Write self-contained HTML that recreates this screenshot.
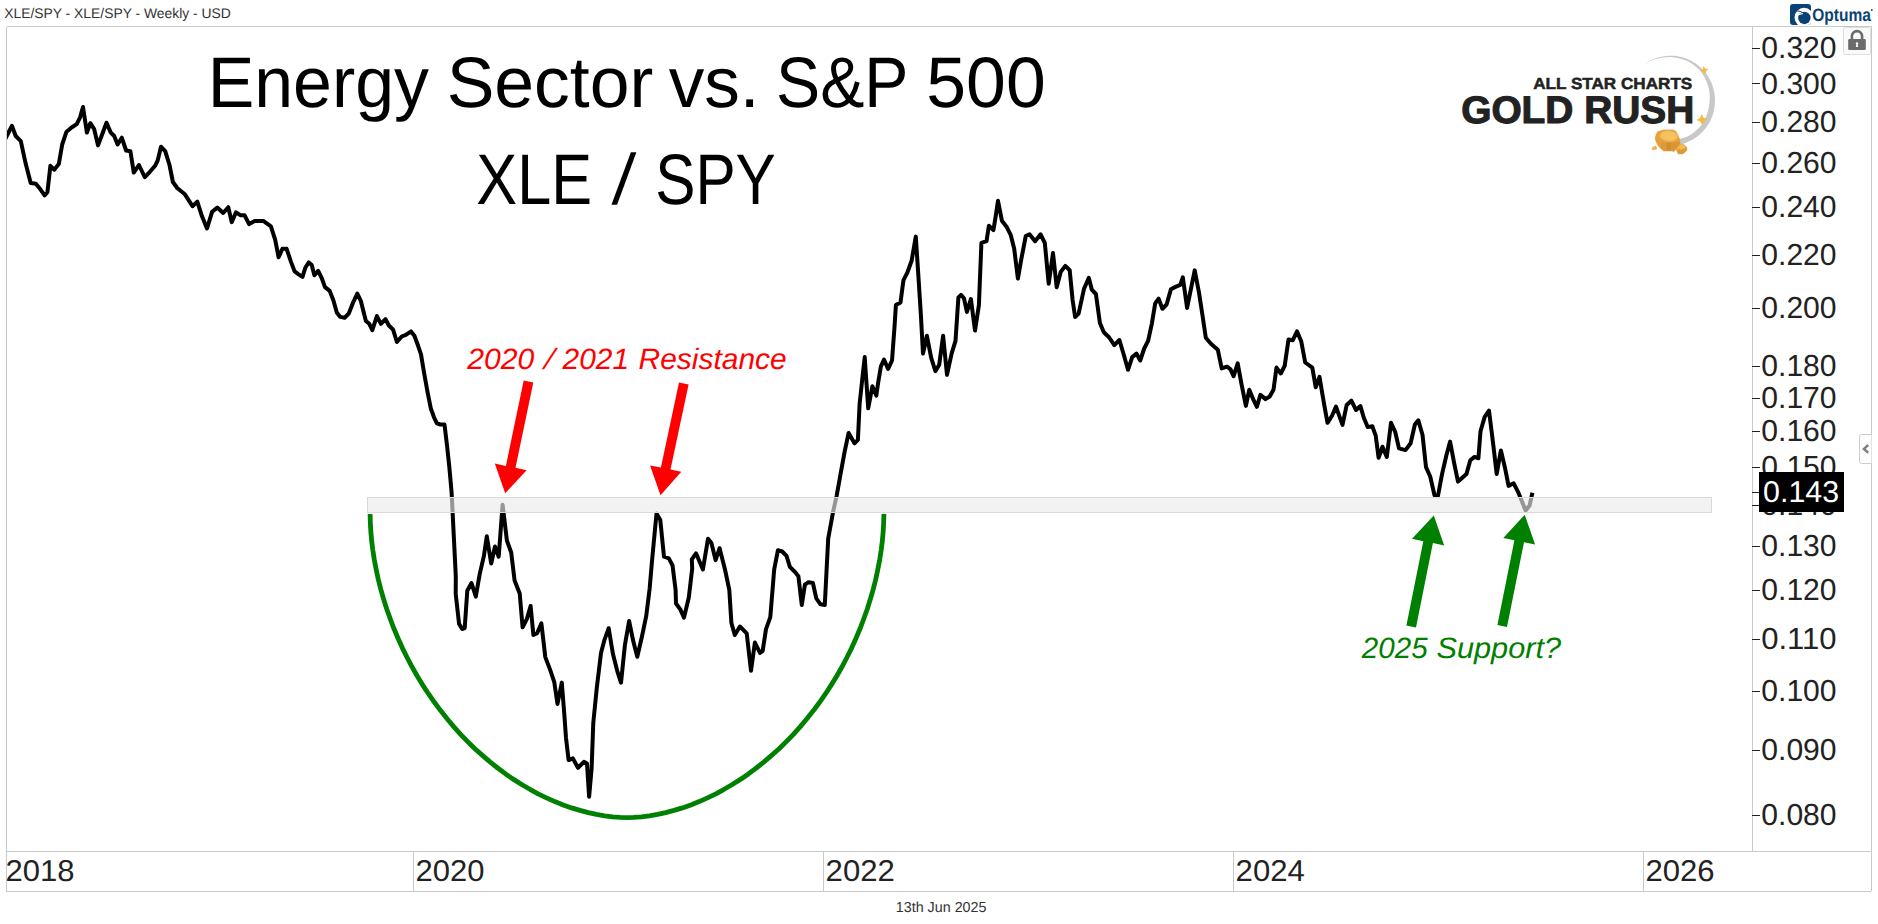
<!DOCTYPE html>
<html lang="en"><head><meta charset="utf-8"><title>XLE/SPY - Weekly</title>
<style>html,body{margin:0;padding:0;background:#fff;}body{width:1878px;height:924px;overflow:hidden;position:relative;font-family:'Liberation Sans', 'DejaVu Sans', sans-serif;}svg{position:absolute;left:0;top:0;display:block;}text{font-family:'Liberation Sans', 'DejaVu Sans', sans-serif;text-rendering:geometricPrecision;}</style>
</head><body>
<svg width="1878" height="924" viewBox="0 0 1878 924">
<rect x="0" y="0" width="1878" height="924" fill="#ffffff"/>
<text x="4.2" y="17.5" font-size="14" fill="#333333" textLength="226.6" lengthAdjust="spacingAndGlyphs">XLE/SPY - XLE/SPY - Weekly - USD</text>
<g fill="none" stroke="#c9c9c9" stroke-width="1" shape-rendering="crispEdges">
<rect x="6.5" y="26.5" width="1865" height="865" rx="1.5"/>
<line x1="1752.5" y1="26.5" x2="1752.5" y2="851.5"/>
<line x1="6.5" y1="851.5" x2="1871.5" y2="851.5"/>
<line x1="413.5" y1="851.5" x2="413.5" y2="891.5"/>
<line x1="823.5" y1="851.5" x2="823.5" y2="891.5"/>
<line x1="1233.5" y1="851.5" x2="1233.5" y2="891.5"/>
<line x1="1643.5" y1="851.5" x2="1643.5" y2="891.5"/>
</g>
<text x="5.5" y="881.1" font-size="30.1" fill="#222222" textLength="68.9" lengthAdjust="spacingAndGlyphs">2018</text>
<text x="415.5" y="881.1" font-size="30.1" fill="#222222" textLength="68.9" lengthAdjust="spacingAndGlyphs">2020</text>
<text x="825.6" y="881.1" font-size="30.1" fill="#222222" textLength="69.2" lengthAdjust="spacingAndGlyphs">2022</text>
<text x="1235.6" y="881.1" font-size="30.1" fill="#222222" textLength="69.2" lengthAdjust="spacingAndGlyphs">2024</text>
<text x="1645.5" y="881.1" font-size="30.1" fill="#222222" textLength="69.1" lengthAdjust="spacingAndGlyphs">2026</text>
<g stroke="#222222" stroke-width="1" shape-rendering="crispEdges">
<line x1="1752" y1="48.5" x2="1760" y2="48.5"/>
<line x1="1752" y1="83.5" x2="1760" y2="83.5"/>
<line x1="1752" y1="122.5" x2="1760" y2="122.5"/>
<line x1="1752" y1="163.5" x2="1760" y2="163.5"/>
<line x1="1752" y1="207.5" x2="1760" y2="207.5"/>
<line x1="1752" y1="255.5" x2="1760" y2="255.5"/>
<line x1="1752" y1="308.5" x2="1760" y2="308.5"/>
<line x1="1752" y1="366.5" x2="1760" y2="366.5"/>
<line x1="1752" y1="398.5" x2="1760" y2="398.5"/>
<line x1="1752" y1="431.5" x2="1760" y2="431.5"/>
<line x1="1752" y1="467.5" x2="1760" y2="467.5"/>
<line x1="1752" y1="505.5" x2="1760" y2="505.5"/>
<line x1="1752" y1="546.5" x2="1760" y2="546.5"/>
<line x1="1752" y1="590.5" x2="1760" y2="590.5"/>
<line x1="1752" y1="639.5" x2="1760" y2="639.5"/>
<line x1="1752" y1="691.5" x2="1760" y2="691.5"/>
<line x1="1752" y1="750.5" x2="1760" y2="750.5"/>
<line x1="1752" y1="815.5" x2="1760" y2="815.5"/>
<line x1="1752" y1="492.5" x2="1760" y2="492.5"/>
</g>
<text x="1761.3" y="57.7" font-size="30.4" fill="#222222" textLength="75.3" lengthAdjust="spacingAndGlyphs">0.320</text>
<text x="1761.3" y="93.5" font-size="30.4" fill="#222222" textLength="75.3" lengthAdjust="spacingAndGlyphs">0.300</text>
<text x="1761.3" y="131.6" font-size="30.4" fill="#222222" textLength="75.3" lengthAdjust="spacingAndGlyphs">0.280</text>
<text x="1761.3" y="172.6" font-size="30.4" fill="#222222" textLength="75.3" lengthAdjust="spacingAndGlyphs">0.260</text>
<text x="1761.3" y="216.9" font-size="30.4" fill="#222222" textLength="75.3" lengthAdjust="spacingAndGlyphs">0.240</text>
<text x="1761.3" y="265.1" font-size="30.4" fill="#222222" textLength="75.3" lengthAdjust="spacingAndGlyphs">0.220</text>
<text x="1761.3" y="317.8" font-size="30.4" fill="#222222" textLength="75.3" lengthAdjust="spacingAndGlyphs">0.200</text>
<text x="1761.3" y="376.1" font-size="30.4" fill="#222222" textLength="75.3" lengthAdjust="spacingAndGlyphs">0.180</text>
<text x="1761.3" y="407.7" font-size="30.4" fill="#222222" textLength="75.3" lengthAdjust="spacingAndGlyphs">0.170</text>
<text x="1761.3" y="441.3" font-size="30.4" fill="#222222" textLength="75.3" lengthAdjust="spacingAndGlyphs">0.160</text>
<text x="1761.3" y="477.0" font-size="30.4" fill="#222222" textLength="75.3" lengthAdjust="spacingAndGlyphs">0.150</text>
<text x="1761.3" y="515.2" font-size="30.4" fill="#222222" textLength="75.3" lengthAdjust="spacingAndGlyphs">0.140</text>
<text x="1761.3" y="556.2" font-size="30.4" fill="#222222" textLength="75.3" lengthAdjust="spacingAndGlyphs">0.130</text>
<text x="1761.3" y="600.4" font-size="30.4" fill="#222222" textLength="75.3" lengthAdjust="spacingAndGlyphs">0.120</text>
<text x="1761.2" y="648.6" font-size="30.4" fill="#222222" textLength="75.4" lengthAdjust="spacingAndGlyphs">0.110</text>
<text x="1761.3" y="701.3" font-size="30.4" fill="#222222" textLength="75.3" lengthAdjust="spacingAndGlyphs">0.100</text>
<text x="1761.3" y="759.6" font-size="30.4" fill="#222222" textLength="75.3" lengthAdjust="spacingAndGlyphs">0.090</text>
<text x="1761.3" y="824.8" font-size="30.4" fill="#222222" textLength="75.3" lengthAdjust="spacingAndGlyphs">0.080</text>
<text x="207.7" y="107.4" font-size="71.5" fill="#000000" textLength="221.3" lengthAdjust="spacingAndGlyphs">Energy</text>
<text x="446.7" y="107.4" font-size="71.5" fill="#000000" textLength="206.6" lengthAdjust="spacingAndGlyphs">Sector</text>
<text x="668.7" y="107.4" font-size="71.5" fill="#000000" textLength="90.9" lengthAdjust="spacingAndGlyphs">vs.</text>
<text x="776.1" y="107.4" font-size="71.5" fill="#000000" textLength="132.4" lengthAdjust="spacingAndGlyphs">S&amp;P</text>
<text x="926.3" y="107.4" font-size="71.5" fill="#000000" textLength="119.4" lengthAdjust="spacingAndGlyphs">500</text>
<text x="476.3" y="204.1" font-size="71.5" fill="#000000" textLength="115.8" lengthAdjust="spacingAndGlyphs">XLE</text>
<text x="611.4" y="204.1" font-size="71.5" fill="#000000" transform="translate(611.4,204.1) skewX(-5.5) translate(-611.4,-204.1)" textLength="19.9" lengthAdjust="spacingAndGlyphs">/</text>
<text x="655.2" y="204.1" font-size="71.5" fill="#000000" textLength="120.6" lengthAdjust="spacingAndGlyphs">SPY</text>
<clipPath id="plot"><rect x="7" y="27" width="1745" height="824"/></clipPath>
<polyline clip-path="url(#plot)" points="4.0,141.5 11.9,125.8 15.7,136.0 20.8,141.1 25.6,163.3 30.7,182.9 35.8,183.7 40.0,188.8 44.6,195.3 47.4,192.2 50.4,165.8 54.2,169.7 58.8,164.1 62.2,144.5 66.5,131.7 71.6,127.5 76.7,124.1 80.1,117.3 83.0,107.0 86.9,132.6 90.3,123.2 94.2,129.2 98.0,145.4 102.2,134.3 106.5,122.7 110.8,132.6 114.2,136.0 117.6,144.5 121.8,137.7 126.1,150.5 130.4,151.3 133.8,172.6 138.9,165.0 144.8,177.2 149.9,171.8 155.1,165.8 157.6,160.7 161.0,146.7 165.3,151.3 169.5,165.0 172.9,182.0 177.2,188.0 184.9,194.3 192.5,206.2 197.3,201.6 201.9,216.1 207.0,228.4 212.1,211.8 217.3,207.6 223.2,213.0 228.3,207.2 231.7,222.1 236.0,212.3 240.3,215.2 244.5,215.2 249.1,224.1 254.7,220.9 263.3,220.9 270.9,226.3 275.2,239.9 278.6,257.3 282.4,248.8 286.6,248.8 290.9,261.6 294.6,271.4 298.6,274.3 302.5,276.9 305.4,267.5 308.8,262.4 311.7,265.0 314.4,275.2 318.2,270.9 321.6,277.8 325.0,287.1 329.7,290.9 333.5,300.8 336.9,312.7 340.3,316.9 344.6,317.8 348.8,313.5 353.1,302.5 357.3,293.6 360.8,300.8 363.8,312.7 365.9,320.9 369.3,323.8 372.3,330.1 376.9,316.1 380.9,323.8 385.5,319.2 388.9,325.5 393.1,329.7 396.9,342.0 401.7,336.5 405.9,334.8 411.0,331.4 414.4,335.7 418.1,345.8 421.0,354.3 424.1,373.0 427.5,391.8 430.9,408.8 434.0,417.3 436.9,423.3 440.3,424.5 444.5,424.5 447.1,446.3 449.3,466.8 451.5,491.1 452.4,508.2 454.1,542.2 455.8,576.3 455.7,594.1 459.1,623.9 462.2,629.0 464.7,628.2 467.3,590.7 471.5,583.0 475.8,596.6 479.6,574.6 483.9,555.9 486.8,536.3 491.2,563.5 495.0,546.5 498.7,556.7 502.6,504.7 506.9,540.5 511.2,552.5 514.6,580.6 519.7,593.4 522.6,627.3 526.9,618.8 530.6,606.0 533.4,635.0 537.1,633.3 541.4,623.4 545.3,657.1 549.9,669.1 554.2,681.8 557.5,703.9 561.8,682.6 564.3,714.1 566.0,737.9 568.6,760.1 572.9,758.4 578.0,767.8 583.9,761.8 587.0,763.5 589.1,796.7 591.6,768.6 593.3,722.6 596.8,687.8 601.0,652.9 604.4,640.1 608.7,628.2 612.9,653.7 617.2,670.8 621.0,682.7 624.9,645.2 629.1,621.0 633.4,641.8 637.3,656.8 641.9,636.7 646.2,616.2 649.6,589.0 652.1,560.0 656.5,513.6 660.3,520.1 664.0,556.7 668.8,558.4 672.5,565.2 675.6,589.9 676.0,603.5 680.3,609.4 684.0,617.6 688.8,597.5 692.2,568.5 691.8,559.3 696.0,553.3 702.9,569.5 708.0,538.8 711.4,543.1 715.6,560.1 719.6,548.2 725.0,569.5 729.3,589.9 731.4,623.0 734.8,635.0 739.9,626.5 746.7,633.3 751.0,670.8 754.9,642.6 760.0,652.9 762.6,651.2 766.0,629.1 770.3,617.1 774.2,569.4 777.9,550.3 782.2,551.5 786.5,555.8 789.9,566.9 795.0,572.0 798.4,576.2 801.8,604.9 804.9,584.7 808.6,582.2 812.9,583.0 816.3,598.4 820.5,604.3 824.8,604.9 828.2,538.7 831.6,520.0 833.2,511.4 836.6,496.1 840.9,472.2 844.6,451.8 848.6,433.0 854.5,443.3 857.9,439.9 859.6,404.1 862.7,375.1 864.7,357.1 868.2,408.3 872.4,386.2 876.3,395.6 878.3,381.8 880.9,366.4 884.0,359.6 888.1,369.0 892.0,360.5 894.5,327.2 895.9,305.1 900.5,302.5 903.4,280.4 907.3,272.7 911.6,260.8 915.8,236.6 918.4,276.1 920.9,315.3 923.0,353.6 926.9,335.8 931.2,357.9 935.4,371.2 939.2,364.7 943.1,335.8 947.0,374.9 951.6,353.6 955.5,340.9 958.4,297.4 961.0,294.9 964.0,298.3 966.9,311.9 970.9,299.1 975.0,330.6 978.9,305.1 981.4,242.9 986.5,241.2 988.9,225.8 993.4,230.1 995.4,218.2 998.0,200.8 1001.9,220.7 1006.5,226.7 1010.8,235.2 1014.2,248.8 1017.9,278.6 1021.3,259.1 1025.8,236.0 1029.5,234.3 1035.1,241.2 1040.6,234.3 1044.8,242.9 1048.7,283.8 1053.0,253.1 1056.7,287.2 1060.7,271.9 1065.3,265.9 1069.7,270.2 1072.6,300.0 1075.1,317.0 1078.6,313.6 1084.0,288.9 1088.8,277.8 1091.8,289.7 1095.9,294.0 1099.9,323.0 1103.8,332.3 1109.2,337.5 1114.3,345.1 1119.4,340.0 1123.7,354.5 1128.0,369.8 1132.2,357.1 1136.5,353.6 1140.2,360.5 1144.2,348.5 1148.1,340.9 1151.8,323.8 1155.2,303.4 1158.6,298.6 1162.4,308.8 1166.6,304.5 1170.9,289.2 1176.0,286.6 1180.3,284.9 1182.8,277.3 1187.1,307.9 1194.7,270.4 1199.0,292.6 1202.4,314.7 1205.8,337.8 1210.9,343.7 1217.8,349.7 1221.7,368.4 1227.1,366.7 1230.5,369.3 1233.6,376.1 1237.7,363.3 1241.6,384.6 1245.9,405.9 1249.3,389.7 1253.5,399.9 1256.9,406.8 1260.4,394.8 1265.5,399.1 1269.7,396.5 1273.5,389.7 1276.5,367.6 1280.8,373.5 1284.7,365.9 1288.5,339.5 1292.7,340.3 1297.0,331.4 1301.2,341.2 1305.2,362.5 1312.3,367.6 1315.7,387.2 1319.5,376.9 1322.5,394.8 1324.6,406.8 1327.5,422.8 1331.9,416.0 1336.0,406.6 1338.7,414.3 1342.5,424.9 1346.7,404.9 1351.3,400.7 1356.1,410.0 1360.4,406.1 1363.8,417.7 1367.7,427.1 1372.3,426.2 1375.7,435.6 1378.6,457.8 1382.5,446.7 1386.8,456.9 1391.0,422.8 1395.3,432.2 1399.0,448.4 1405.5,450.1 1410.6,443.3 1414.9,424.5 1418.3,420.3 1422.5,434.7 1426.0,467.1 1430.2,476.5 1434.5,495.2 1437.9,496.1 1442.1,473.9 1446.4,455.2 1450.1,441.6 1454.1,462.9 1458.0,481.6 1461.7,478.2 1466.5,473.9 1470.3,460.3 1474.5,456.9 1478.4,458.3 1480.5,431.3 1484.7,416.9 1489.0,410.6 1493.3,445.0 1496.7,473.9 1500.9,450.4 1505.2,468.8 1508.6,485.9 1513.7,483.3 1518.0,491.8 1522.2,502.1 1525.6,510.6 1529.6,505.5 1532.4,492.7" fill="none" stroke="#000000" stroke-width="4" stroke-linejoin="round" stroke-linecap="butt"/>
<rect x="367.5" y="497.5" width="1344" height="15" fill="#ebebeb" fill-opacity="0.64" stroke="none"/>
<rect x="367.5" y="497.5" width="1344" height="15" fill="none" stroke="#d9d9d9" stroke-width="1" shape-rendering="crispEdges"/>
<polyline points="370.1,514.0 370.3,522.1 370.8,531.1 371.6,540.4 372.8,550.0 374.3,559.7 376.2,569.6 378.3,579.5 380.8,589.4 383.7,599.3 386.8,609.2 390.3,619.0 394.0,628.8 398.1,638.5 402.4,648.1 407.1,657.5 412.0,666.8 417.2,676.0 422.7,684.9 428.4,693.7 434.4,702.3 440.6,710.6 447.1,718.8 453.7,726.6 460.6,734.3 467.7,741.6 474.9,748.7 482.4,755.4 490.0,761.9 497.7,768.0 505.6,773.9 513.6,779.4 521.7,784.5 529.9,789.3 538.1,793.8 546.5,797.9 554.8,801.6 563.2,804.9 571.6,807.9 580.0,810.4 588.3,812.6 596.5,814.4 604.6,815.8 612.6,816.8 620.2,817.4 627.0,817.6 633.8,817.4 641.4,816.8 649.4,815.8 657.5,814.4 665.7,812.6 674.0,810.4 682.4,807.9 690.8,804.9 699.2,801.6 707.5,797.9 715.9,793.8 724.1,789.3 732.3,784.5 740.4,779.4 748.4,773.9 756.3,768.0 764.0,761.9 771.6,755.4 779.1,748.7 786.3,741.6 793.4,734.3 800.3,726.6 806.9,718.8 813.4,710.6 819.6,702.3 825.6,693.7 831.3,684.9 836.8,676.0 842.0,666.8 846.9,657.5 851.6,648.1 855.9,638.5 860.0,628.8 863.7,619.0 867.2,609.2 870.3,599.3 873.2,589.4 875.7,579.5 877.8,569.6 879.7,559.7 881.2,550.0 882.4,540.4 883.2,531.1 883.7,522.1 883.9,514.0" fill="none" stroke="#008000" stroke-width="4.8" stroke-linejoin="round"/>
<polygon points="523.7,380.5 505.9,465.9 494.8,463.5 505.2,493.3 526.6,470.2 515.5,467.8 533.3,382.5" fill="#ff0000"/>
<polygon points="679.0,382.6 660.9,467.5 650.1,465.4 660.5,495.2 681.3,471.7 670.5,469.6 688.6,384.6" fill="#ff0000"/>
<polygon points="1416.0,627.5 1432.9,543.1 1444.2,545.5 1433.8,515.5 1412.0,538.8 1423.3,541.2 1406.4,625.5" fill="#008000"/>
<polygon points="1507.0,627.0 1524.0,542.2 1535.1,544.5 1524.7,514.8 1503.3,537.9 1514.4,540.2 1497.4,625.0" fill="#008000"/>
<text x="467.3" y="369.4" font-size="29.5" font-style="italic" fill="#ff0000" textLength="67.0" lengthAdjust="spacingAndGlyphs">2020</text>
<text x="543.5" y="369.4" font-size="29.5" font-style="italic" fill="#ff0000" transform="translate(543.5,369.4) skewX(-10.0) translate(-543.5,-369.4)" textLength="8.2" lengthAdjust="spacingAndGlyphs">/</text>
<text x="562.6" y="369.4" font-size="29.5" font-style="italic" fill="#ff0000" textLength="66.5" lengthAdjust="spacingAndGlyphs">2021</text>
<text x="638.6" y="369.4" font-size="29.5" font-style="italic" fill="#ff0000" textLength="148.1" lengthAdjust="spacingAndGlyphs">Resistance</text>
<text x="1361.8" y="657.6" font-size="29.5" font-style="italic" fill="#008000" textLength="65.8" lengthAdjust="spacingAndGlyphs">2025</text>
<text x="1436.5" y="657.6" font-size="29.5" font-style="italic" fill="#008000" textLength="124.5" lengthAdjust="spacingAndGlyphs">Support?</text>
<rect x="1759" y="472" width="85" height="40" fill="#000000"/>
<text x="1763.1" y="502.4" font-size="30.0" fill="#ffffff" textLength="76.0" lengthAdjust="spacingAndGlyphs">0.143</text>
<g id="goldrush">
<polygon points="1643.7,65.0 1646.6,62.9 1649.6,61.1 1652.7,59.6 1655.9,58.3 1659.2,57.2 1662.6,56.5 1666.1,55.9 1669.5,55.7 1673.0,55.8 1676.5,56.1 1679.9,56.7 1683.3,57.5 1686.6,58.7 1689.8,60.1 1692.9,61.7 1695.8,63.6 1698.6,65.7 1701.2,68.0 1703.6,70.6 1705.8,73.3 1707.9,76.1 1709.6,79.2 1711.2,82.3 1712.5,85.6 1713.5,89.0 1714.3,92.4 1714.8,95.9 1715.0,99.4 1714.9,102.9 1714.6,106.5 1714.0,109.9 1713.2,113.4 1712.1,116.7 1710.7,119.9 1709.1,123.0 1707.2,126.0 1705.1,128.9 1702.8,131.5 1700.3,134.0 1697.7,136.2 1694.8,138.3 1691.8,140.1 1688.7,141.6 1685.5,142.9 1682.2,144.0 1678.8,144.7 1675.3,145.3 1671.9,145.5 1668.4,145.4 1668.7,139.5 1671.7,139.6 1674.8,139.4 1677.8,139.0 1680.9,138.5 1683.8,137.7 1686.8,136.7 1689.5,135.3 1692.2,133.7 1694.7,131.8 1697.0,129.8 1699.2,127.6 1701.2,125.3 1702.9,122.7 1704.5,120.1 1705.8,117.3 1706.9,114.5 1707.8,111.6 1708.5,108.6 1709.1,105.7 1709.5,102.6 1709.7,99.6 1709.8,96.5 1709.6,93.4 1709.2,90.3 1708.5,87.2 1707.6,84.2 1706.5,81.2 1705.1,78.2 1703.5,75.4 1701.7,72.7 1699.6,70.2 1697.2,67.9 1694.7,65.7 1691.9,63.8 1689.1,62.1 1686.0,60.6 1682.9,59.4 1679.7,58.4 1676.3,57.7 1673.0,57.2 1669.6,57.1 1666.1,57.2 1662.7,57.5 1659.3,58.2 1656.0,59.1 1652.7,60.2 1649.5,61.6 1646.5,63.3 1643.5,65.2" fill="#c8c8c8"/>
<text x="1533.2" y="89.1" font-size="16" font-weight="bold" fill="#222222" stroke="#222222" stroke-width="0.5" textLength="159.1" lengthAdjust="spacingAndGlyphs">ALL STAR CHARTS</text>
<text x="1461.2" y="123.4" font-size="38.4" font-weight="bold" fill="#222222" stroke="#222222" stroke-width="1.1" textLength="233.0" lengthAdjust="spacingAndGlyphs">GOLD RUSH</text>
<polygon points="1708.5,69.1 1706.0,71.1 1705.5,74.3 1703.5,71.8 1700.3,71.3 1702.8,69.3 1703.3,66.1 1705.3,68.6" fill="#f5b83d"/>
<polygon points="1707.6,119.1 1703.9,121.2 1702.5,125.2 1700.4,121.5 1696.4,120.1 1700.1,118.0 1701.5,114.0 1703.6,117.7" fill="#f5b83d"/>
<path d="M1655.3,138.4 L1656.3,134.3 L1657.6,131.8 L1663.5,130 L1673,130 L1675.8,131.3 L1677.9,135.2 L1680,140.9 L1680,143.4 L1676.7,148.3 L1673.8,151.6 L1672.1,150.8 L1663.5,150.8 L1658.6,146.3 L1656.1,141.7 Z" fill="#e3a23c" stroke="#e3a23c" stroke-width="0.8" stroke-linejoin="round"/>
<path d="M1661,142.2 L1666.4,142.8 L1666.4,150.8 L1663.5,150.8 L1660.2,147.8 Z" fill="#dd9a38"/>
<path d="M1666.4,142.8 L1671.3,142.6 L1671.3,150.8 L1666.4,150.8 Z" fill="#d28d2f"/>
<path d="M1671.3,142.6 L1679.6,141.5 L1680,143.4 L1676.7,148.3 L1673.8,151.6 L1672.1,150.8 L1671.3,150.8 Z" fill="#da9636"/>
<ellipse cx="1668.6" cy="136.2" rx="9.3" ry="5.6" fill="#ecb34e" transform="rotate(5 1668.6 136.2)"/>
<ellipse cx="1668.9" cy="135.9" rx="8.3" ry="4.7" fill="#f4c260" transform="rotate(5 1668.9 135.9)"/>
<path d="M1676.3,148.3 L1680,144.2 L1683.7,144.4 L1686.9,147.5 L1686.7,150.8 L1682.8,153.9 L1678.3,153.9 L1677.1,151.6 Z" fill="#dd9a38" stroke="#dd9a38" stroke-width="0.6" stroke-linejoin="round"/>
<path d="M1676.8,148.6 L1680.2,144.6 L1683.5,144.8 L1686.2,147.3 L1681.5,149.8 Z" fill="#f0bb58"/>
<path d="M1652,150 L1652.2,147.5 L1655.3,145.4 L1656.9,147.5 L1656.9,149.6 Z" fill="#eeb449"/>
</g>
<g id="optuma">
<clipPath id="oc"><rect x="1790" y="4" width="21" height="21" rx="3"/></clipPath>
<rect x="1790" y="4" width="21" height="21" rx="3" fill="#0a4275"/>
<g clip-path="url(#oc)">
<circle cx="1804.1" cy="17.4" r="9.55" fill="#ffffff"/>
<circle cx="1804.35" cy="17.95" r="6.2" fill="#0a4275"/>
<path d="M1797.3,11.0 Q1800.2,10.9 1802.6,12.6" fill="none" stroke="#0a4275" stroke-width="1.0"/>
<path d="M1799.2,14.9 Q1800.6,13.4 1802.8,13.6" fill="none" stroke="#ffffff" stroke-width="1.3"/>
</g>
<text x="1812.2" y="21" font-size="18" font-weight="bold" fill="#0a4275" textLength="58.7" lengthAdjust="spacingAndGlyphs">Optuma</text>
<circle cx="1871.8" cy="10" r="0.9" fill="#0a4275"/>
</g>
<rect x="1843.5" y="27.5" width="27" height="27" rx="2" fill="#fafafa" stroke="#dddddd"/>
<path d="M1851.9,40 V36.2 A5.1,5.1 0 0 1 1862.1,36.2 V40" fill="none" stroke="#6b6b6b" stroke-width="2.6"/>
<rect x="1848.2" y="39" width="17.6" height="11" rx="1.2" fill="#6b6b6b"/>
<circle cx="1857" cy="43.4" r="1.25" fill="#fafafa"/>
<path d="M1856.5,43.8 h1 l0.7,3.2 h-2.4 Z" fill="#fafafa"/>
<path d="M1871.5,434.5 H1861.5 a2,2 0 0 0 -2,2 V461.5 a2,2 0 0 0 2,2 H1871.5" fill="#fdfdfd" stroke="#cccccc"/>
<path d="M1868.2,445 L1863.9,448.9 L1868.2,452.8" fill="none" stroke="#808080" stroke-width="2.5" stroke-linejoin="miter"/>
<text x="895.8" y="912.4" font-size="14.5" fill="#333333" textLength="90.7" lengthAdjust="spacingAndGlyphs">13th Jun 2025</text>
</svg>
</body></html>
